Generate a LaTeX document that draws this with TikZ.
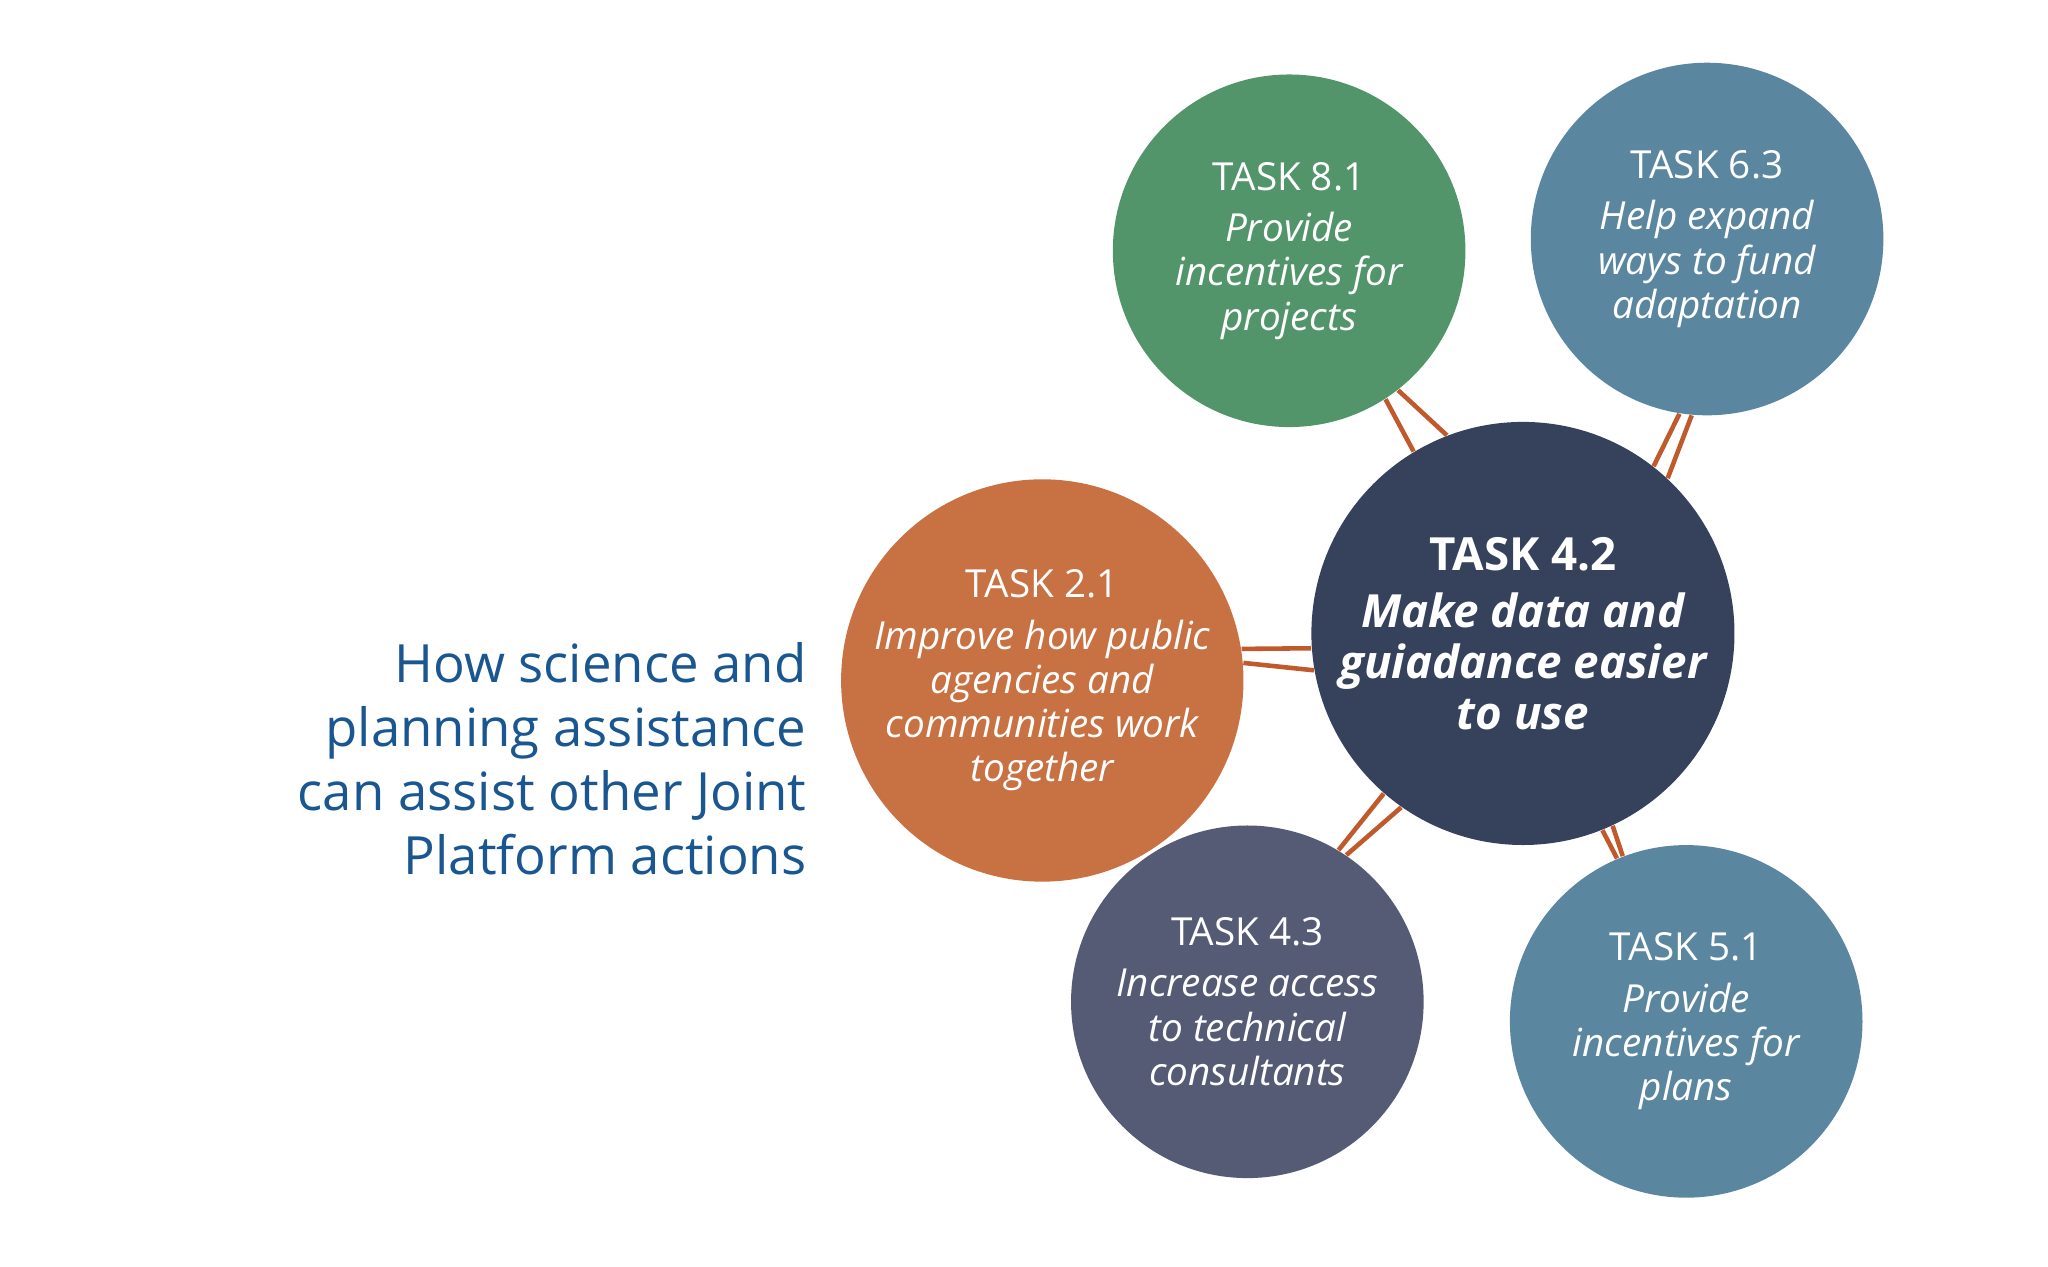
\documentclass[tikz,border=0pt]{standalone}
\usepackage{fontspec}
\setmainfont{Open Sans}
\begin{document}
\begin{tikzpicture}[x=0.01306cm,y=-0.01306cm]
\definecolor{cgreen}{HTML}{52956B}
\definecolor{cblue}{HTML}{5A879F}
\definecolor{cdark}{HTML}{36425C}
\definecolor{corange}{HTML}{C87142}
\definecolor{cpurple}{HTML}{555A75}
\definecolor{ctitle}{HTML}{1A5690}
\definecolor{cline}{HTML}{C0592B}
\tikzset{
  task/.style={circle,draw=none,text=white,minimum size=3.526cm,inner sep=0pt,align=center,font=\fontsize{11}{12.6}\selectfont},
  conn/.style={draw=cline,line width=1.3pt}}
\useasboundingbox (0,0) rectangle (1568,970);
\node[task,fill=cgreen] (t81) at (987,192) {TASK 8.1\\[2pt]\itshape Provide\\\itshape incentives for\\\itshape projects};
\node[task,fill=cblue] (t63) at (1307,183) {TASK 6.3\\[2pt]\itshape Help expand\\\itshape ways to fund\\\itshape adaptation};
\node[task,fill=corange] (t21) at (798,521) {TASK 2.1\\[2pt]\itshape Improve how public\\\itshape agencies and\\\itshape communities work\\\itshape together};
\node[task,fill=cpurple] (t43) at (955,767) {TASK 4.3\\[2pt]\itshape Increase access\\\itshape to technical\\\itshape consultants};
\node[task,fill=cblue] (t51) at (1291,782) {TASK 5.1\\[2pt]\itshape Provide\\\itshape incentives for\\\itshape plans};
\node[task,fill=cdark,minimum size=4.231cm,font=\fontsize{13}{14.4}\selectfont\bfseries] (t42) at (1166,485) {TASK 4.2\\[2pt]\itshape Make data and\\\itshape guiadance easier\\\itshape to use};
\draw[conn] (t81.-57) -- (t42.121);
\draw[conn] (t81.-52) -- (t42.111);
\draw[conn] (t63.-99) -- (t42.52);
\draw[conn] (t63.-95) -- (t42.47);
\draw[conn] (t21.9) -- (t42.184);
\draw[conn] (t21.5) -- (t42.190);
\draw[conn] (t43.59) -- (t42.-131);
\draw[conn] (t43.56) -- (t42.-125);
\draw[conn] (t51.113) -- (t42.-68);
\draw[conn] (t51.111) -- (t42.-65);
\node[anchor=east,align=right,text=ctitle,font=\fontsize{15}{18.2}\selectfont] (title) at (627,581) {How science and\\planning assistance\\can assist other Joint\\Platform actions};
\end{tikzpicture}
\end{document}
